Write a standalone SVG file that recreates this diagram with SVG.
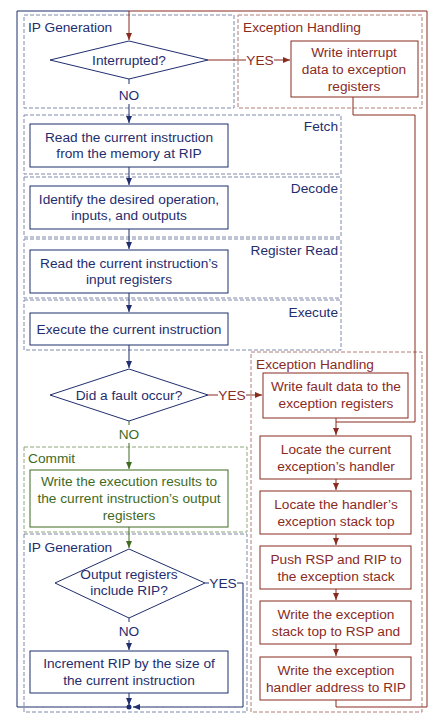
<svg xmlns="http://www.w3.org/2000/svg" width="445" height="726" viewBox="0 0 445 726">
<defs>
<style>
text{font-family:"Liberation Sans",Arial,sans-serif;font-size:13.7px;text-anchor:middle}
.b{fill:#1f2e6e}.r{fill:#8a2b1f}.g{fill:#3f6b1f}
.l{text-anchor:start}.e{text-anchor:end}
.dz{fill:none;stroke-dasharray:4 2;stroke-width:1}
.db{stroke:#7f8aa8}.dr{stroke:#b07f78}.dg{stroke:#8ea67a}
.nb{fill:#fff;stroke:#1f2e6e;stroke-width:1}
.nr{fill:#fff;stroke:#8a2b1f;stroke-width:1}
.ng{fill:#fff;stroke:#3f6b1f;stroke-width:1}
.cb{fill:none;stroke:#1f2e6e;stroke-width:1}
.cr{fill:none;stroke:#8a2b1f;stroke-width:1}
.cg{fill:none;stroke:#3f6b1f;stroke-width:1}
</style>
<marker id="ab" markerWidth="8" markerHeight="8" refX="7" refY="4" orient="auto" markerUnits="userSpaceOnUse"><path d="M0,1 L7,4 L0,7 z" fill="#1f2e6e"/></marker>
<marker id="ar" markerWidth="8" markerHeight="8" refX="7" refY="4" orient="auto" markerUnits="userSpaceOnUse"><path d="M0,1 L7,4 L0,7 z" fill="#8a2b1f"/></marker>
<marker id="ag" markerWidth="8" markerHeight="8" refX="7" refY="4" orient="auto" markerUnits="userSpaceOnUse"><path d="M0,1 L7,4 L0,7 z" fill="#3f6b1f"/></marker>
</defs>
<rect width="445" height="726" fill="#fff"/>

<g id="stages">
<rect class="dz db" x="24" y="15" width="210" height="93"/>
<text class="b l" x="28" y="32">IP Generation</text>
<rect class="dz dr" x="238" y="15" width="184" height="93"/>
<text class="r l" x="243" y="32">Exception Handling</text>
<rect class="dz db" x="24" y="115" width="317" height="59"/>
<text class="b e" x="338" y="131">Fetch</text>
<rect class="dz db" x="24" y="177" width="317" height="60"/>
<text class="b e" x="338" y="193">Decode</text>
<rect class="dz db" x="24" y="239" width="317" height="59"/>
<text class="b e" x="338" y="255">Register Read</text>
<rect class="dz db" x="24" y="300" width="317" height="50"/>
<text class="b e" x="338" y="317">Execute</text>
<rect class="dz dr" x="251" y="352" width="171" height="360"/>
<text class="r l" x="256" y="369">Exception Handling</text>
<rect class="dz dg" x="24" y="447" width="223" height="85"/>
<text class="g l" x="28" y="463">Commit</text>
<rect class="dz db" x="24" y="534" width="223" height="178"/>
<text class="b l" x="28" y="552">IP Generation</text>
</g>

<g id="connectors">
<path class="cb" d="M129,707 H17 V11 H129"/>
<path class="cr" d="M336,700 V707 H427 V11 H129 V40" marker-end="url(#ar)"/>
<path class="cr" d="M208,60 H246"/>
<path class="cr" d="M274,60 H290" marker-end="url(#ar)"/>
<text class="r" x="260" y="65">YES</text>
<path class="cb" d="M129,79 V84"/>
<text class="b" x="129" y="100">NO</text>
<path class="cb" d="M129,104 V123" marker-end="url(#ab)"/>
<path class="cb" d="M129,167 V185" marker-end="url(#ab)"/>
<path class="cb" d="M129,229 V249" marker-end="url(#ab)"/>
<path class="cb" d="M129,293 V312" marker-end="url(#ab)"/>
<path class="cb" d="M129,345 V368" marker-end="url(#ab)"/>
<path class="cr" d="M208,395 H218"/>
<text class="r" x="232" y="400">YES</text>
<path class="cr" d="M246,395 H262" marker-end="url(#ar)"/>
<path class="cr" d="M353,97 V115 H415 V422 H336"/>
<path class="cr" d="M336,418 V435" marker-end="url(#ar)"/>
<path class="cr" d="M336,479 V490" marker-end="url(#ar)"/>
<path class="cr" d="M336,534 V545" marker-end="url(#ar)"/>
<path class="cr" d="M336,589 V600" marker-end="url(#ar)"/>
<path class="cr" d="M336,644 V656" marker-end="url(#ar)"/>
<text class="g" x="129" y="439">NO</text>
<path class="cg" d="M129,421 V425"/>
<path class="cg" d="M129,443 V469" marker-end="url(#ag)"/>
<path class="cg" d="M129,527 V548" marker-end="url(#ag)"/>
<path class="cb" d="M205,583 H209"/>
<text class="b" x="223" y="588">YES</text>
<path class="cb" d="M237,583 H243 V707 H133" marker-end="url(#ab)"/>
<path class="cb" d="M129,618 V622"/>
<text class="b" x="129" y="636">NO</text>
<path class="cb" d="M129,640 V650" marker-end="url(#ab)"/>
<path class="cb" d="M129,693 V705" marker-end="url(#ab)"/>
<circle cx="129" cy="707" r="2.5" fill="#1f2e6e"/>
</g>

<g id="n-interrupted">
<polygon class="nb" points="129,41 208,60 129,79 50,60"/>
<text class="b" x="129" y="65">Interrupted?</text>
</g>
<g id="n-write-interrupt">
<rect class="nr" x="291" y="41" width="127" height="56"/>
<text class="r" x="354" y="57">Write interrupt</text>
<text class="r" x="354" y="74">data to exception</text>
<text class="r" x="354" y="91">registers</text>
</g>
<g id="n-fetch">
<rect class="nb" x="30" y="124" width="198" height="43"/>
<text class="b" x="129" y="142">Read the current instruction</text>
<text class="b" x="129" y="158">from the memory at RIP</text>
</g>
<g id="n-decode">
<rect class="nb" x="30" y="186" width="198" height="43"/>
<text class="b" x="129" y="204">Identify the desired operation,</text>
<text class="b" x="129" y="220">inputs, and outputs</text>
</g>
<g id="n-regread">
<rect class="nb" x="30" y="250" width="198" height="43"/>
<text class="b" x="129" y="268">Read the current instruction’s</text>
<text class="b" x="129" y="284">input registers</text>
</g>
<g id="n-execute">
<rect class="nb" x="30" y="313" width="198" height="32"/>
<text class="b" x="129" y="334">Execute the current instruction</text>
</g>
<g id="n-fault">
<polygon class="nb" points="129,369 208,395 129,421 50,395"/>
<text class="b" x="129" y="400">Did a fault occur?</text>
</g>
<g id="n-write-fault">
<rect class="nr" x="263" y="373" width="145" height="45"/>
<text class="r" x="336" y="391">Write fault data to the</text>
<text class="r" x="336" y="408">exception registers</text>
</g>
<g id="n-locate-handler">
<rect class="nr" x="260" y="436" width="151" height="43"/>
<text class="r" x="336" y="454">Locate the current</text>
<text class="r" x="336" y="471">exception’s handler</text>
</g>
<g id="n-locate-stack">
<rect class="nr" x="260" y="491" width="151" height="43"/>
<text class="r" x="336" y="509">Locate the handler’s</text>
<text class="r" x="336" y="526">exception stack top</text>
</g>
<g id="n-push">
<rect class="nr" x="260" y="546" width="151" height="43"/>
<text class="r" x="336" y="564">Push RSP and RIP to</text>
<text class="r" x="336" y="581">the exception stack</text>
</g>
<g id="n-write-rsp">
<rect class="nr" x="260" y="601" width="151" height="43"/>
<text class="r" x="336" y="619">Write the exception</text>
<text class="r" x="336" y="636">stack top to RSP and</text>
</g>
<g id="n-write-rip">
<rect class="nr" x="260" y="657" width="151" height="43"/>
<text class="r" x="336" y="675">Write the exception</text>
<text class="r" x="336" y="692">handler address to RIP</text>
</g>
<g id="n-commit">
<rect class="ng" x="30" y="470" width="198" height="57"/>
<text class="g" x="129" y="486">Write the execution results to</text>
<text class="g" x="129" y="503">the current instruction’s output</text>
<text class="g" x="129" y="520">registers</text>
</g>
<g id="n-output-rip">
<polygon class="nb" points="129,549 205,583 129,618 55,583"/>
<text class="b" x="129" y="579">Output registers</text>
<text class="b" x="129" y="595">include RIP?</text>
</g>
<g id="n-increment">
<rect class="nb" x="30" y="651" width="198" height="42"/>
<text class="b" x="129" y="668">Increment RIP by the size of</text>
<text class="b" x="129" y="685">the current instruction</text>
</g>
</svg>
